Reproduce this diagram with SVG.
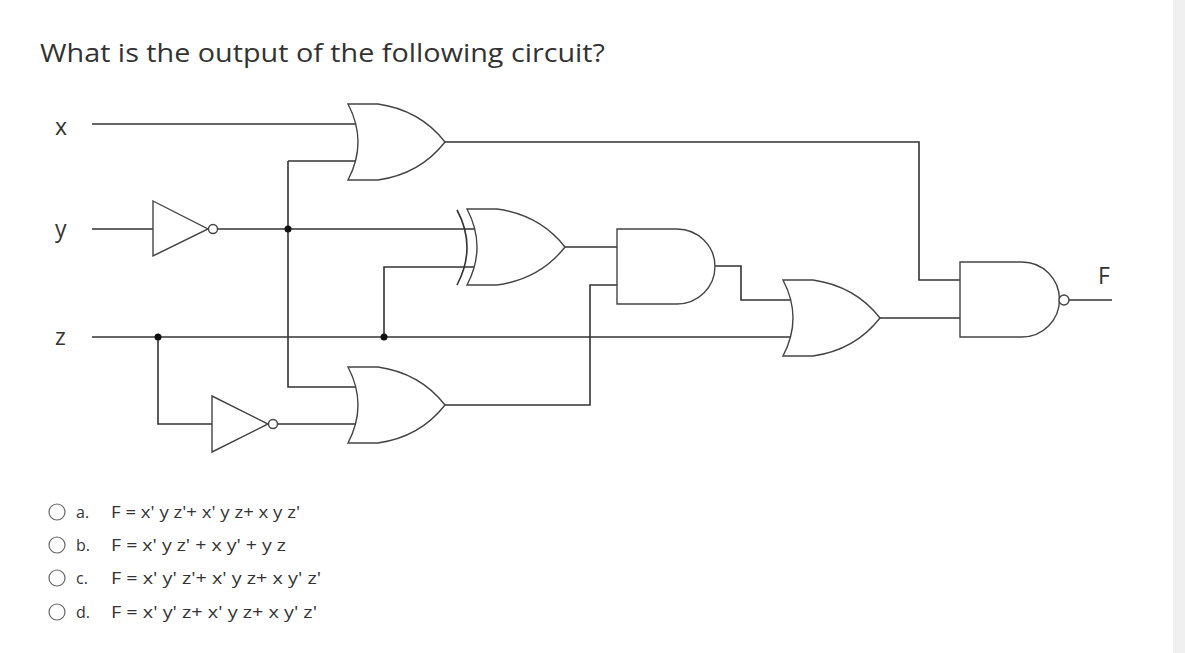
<svg xmlns="http://www.w3.org/2000/svg" width="1185" height="653" viewBox="0 0 1185 653">
<style>
.w{fill:none;stroke:#333;stroke-width:1.6}
.g{fill:#fff;stroke:#444;stroke-width:1.4}
.t{font-family:"Open Sans","Liberation Sans",sans-serif;fill:#333}
.lbl{font-family:"Open Sans","Liberation Sans",sans-serif;font-size:23px;fill:#333}
.o{font-family:"Open Sans","Liberation Sans",sans-serif;font-size:16px;fill:#333}
.r{fill:#fff;stroke:#666;stroke-width:1.2}
</style>
<rect width="1185" height="653" fill="#fff"/>
<rect x="1173" y="0" width="12" height="653" fill="#f0f0f0"/>
<text class="t" x="40" y="62" font-size="26" textLength="565" lengthAdjust="spacingAndGlyphs">What is the output of the following circuit?</text>
<text class="lbl" x="55" y="135">x</text>
<text class="lbl" x="55" y="237">y</text>
<text class="lbl" x="55" y="345">z</text>
<text class="lbl" x="1098" y="284">F</text>
<g id="connectors">
<path class="w" d="M92 124H358"/>
<path class="w" d="M92 229H153M218 229H475"/>
<path class="w" d="M288 161H358M288 161V387H358"/>
<path class="w" d="M92 337H790"/>
<path class="w" d="M384 337V267H475"/>
<path class="w" d="M158 337V424H212M278 424H358"/>
<path class="w" d="M445 142H919V280H960"/>
<path class="w" d="M565 247H617"/>
<path class="w" d="M445 405H590V285H617"/>
<path class="w" d="M715 266H741V300H790"/>
<path class="w" d="M880 318H960"/>
<path class="w" d="M1069 300H1112"/>
<circle cx="288" cy="229" r="3.5" fill="#111"/>
<circle cx="384" cy="337" r="3.5" fill="#111"/>
<circle cx="158" cy="337" r="3.5" fill="#111"/>
</g>
<g id="not-y"><path class="g" d="M153 201L208 229L153 256Z"/><circle class="g" cx="213" cy="229" r="4.5"/></g>
<g id="not-z"><path class="g" d="M212 396L268 424L212 452Z"/><circle class="g" cx="273" cy="424" r="4.5"/></g>
<g id="or1"><path class="g" d="M348 104H378Q420 110 445 142Q420 174 378 180H348Q368 142 348 104Z"/></g>
<g id="or2"><path class="g" d="M348 367H378Q420 373 445 405Q420 437 378 443H348Q368 405 348 367Z"/></g>
<g id="xor"><path class="g" d="M467 209H497Q540 215 565 247Q540 279 497 285H467Q487 247 467 209Z"/><path class="w" d="M457 210Q477 247 457 285"/></g>
<g id="and1"><path class="g" d="M617 229H677A38 37.5 0 0 1 677 304H617Z"/></g>
<g id="or3"><path class="g" d="M783 280H813Q855 286 880 318Q855 350 813 356H783Q803 318 783 280Z"/></g>
<g id="nand"><path class="g" d="M960 262H1022A37.5 37.5 0 0 1 1022 337H960Z"/><circle class="g" cx="1064" cy="300" r="5"/></g>
<g id="options">
<circle class="r" cx="57" cy="512" r="8"/><text class="o" x="76" y="518">a.</text><text class="o" x="111" y="518" textLength="189" lengthAdjust="spacingAndGlyphs">F = x' y z'+ x' y z+ x y z'</text>
<circle class="r" cx="57" cy="545" r="8"/><text class="o" x="76" y="551">b.</text><text class="o" x="111" y="551" textLength="175" lengthAdjust="spacingAndGlyphs">F = x' y z' + x y' + y z</text>
<circle class="r" cx="57" cy="578" r="8"/><text class="o" x="76" y="584">c.</text><text class="o" x="111" y="584" textLength="210" lengthAdjust="spacingAndGlyphs">F = x' y' z'+ x' y z+ x y' z'</text>
<circle class="r" cx="57" cy="612" r="8"/><text class="o" x="76" y="618">d.</text><text class="o" x="111" y="618" textLength="206" lengthAdjust="spacingAndGlyphs">F = x' y' z+ x' y z+ x y' z'</text>
</g>
</svg>
